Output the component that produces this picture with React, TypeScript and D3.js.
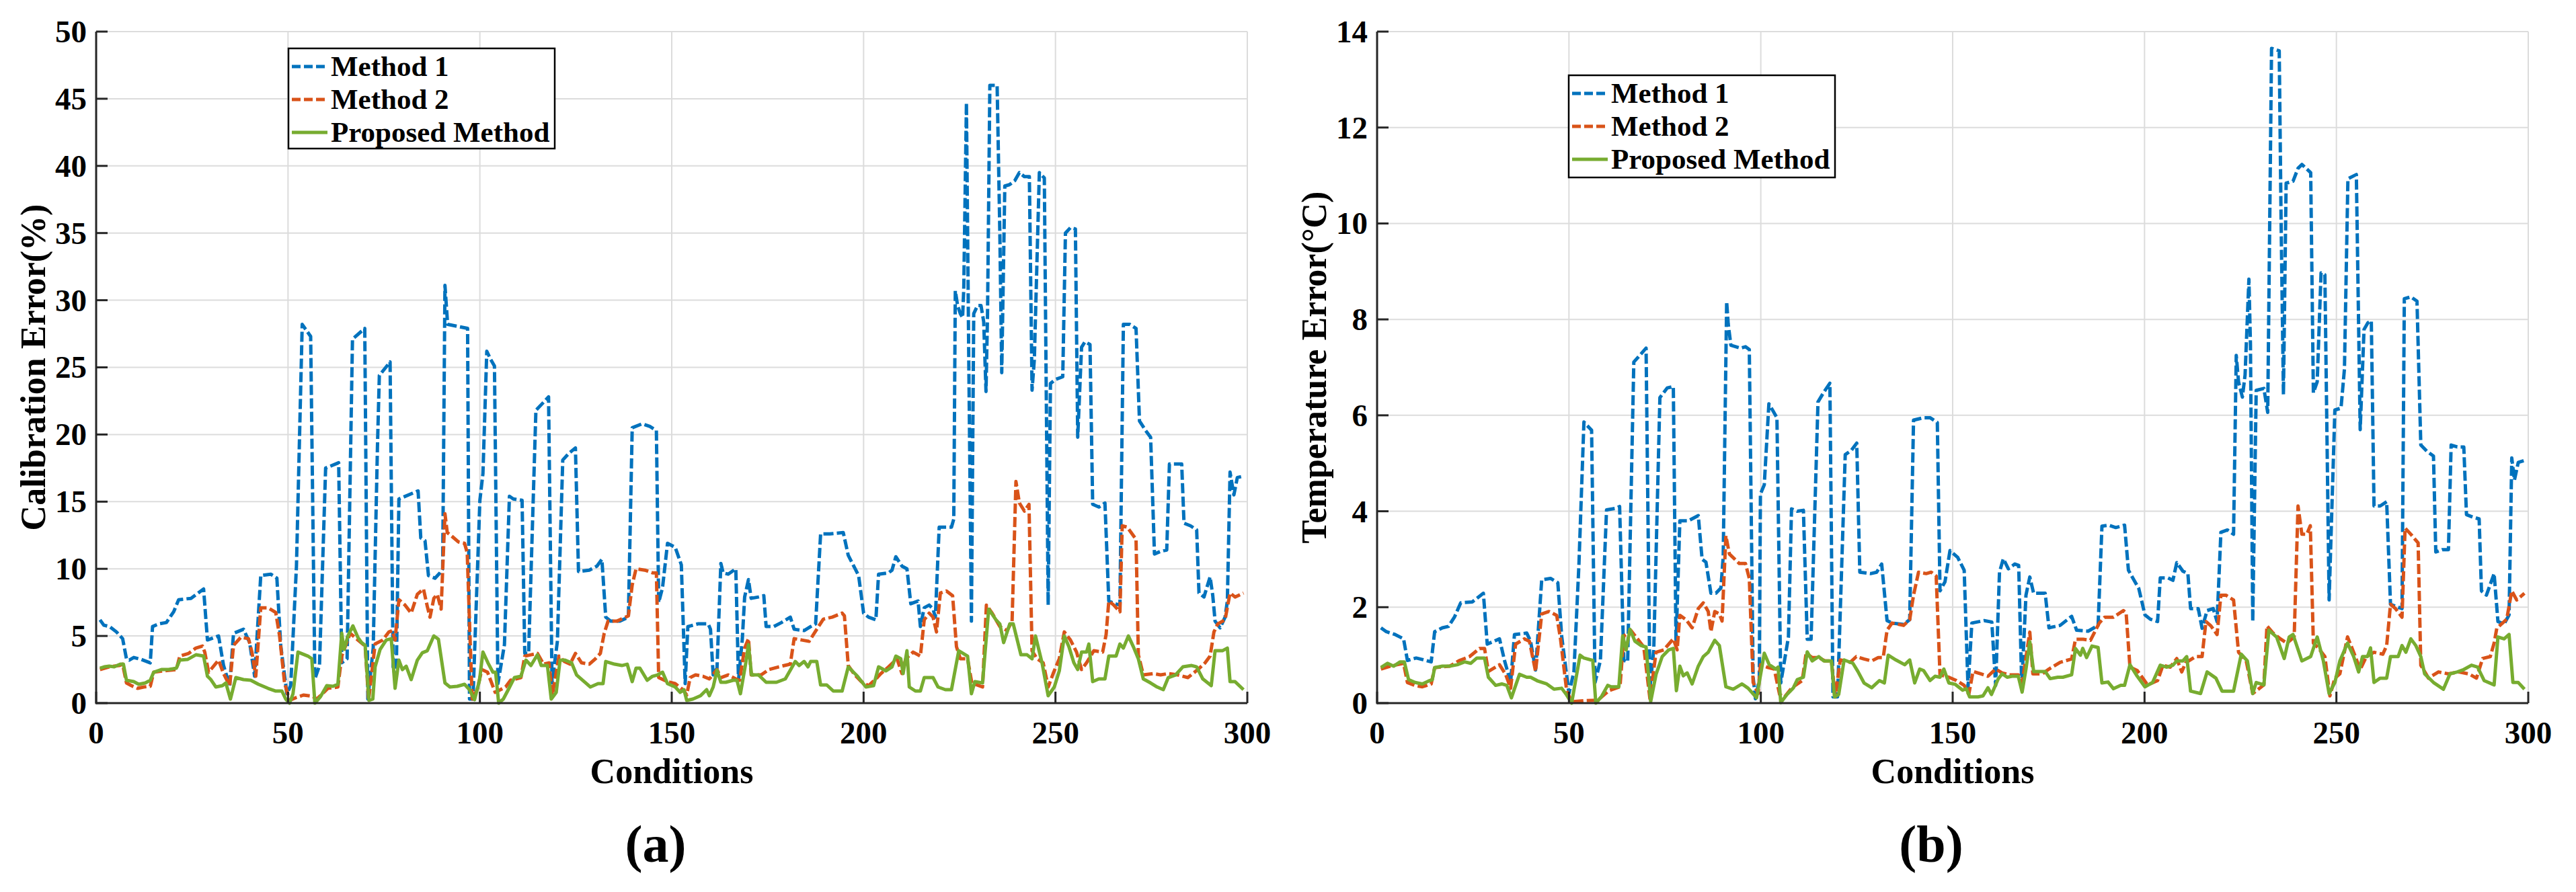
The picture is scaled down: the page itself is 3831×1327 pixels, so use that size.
import React from 'react';
import * as d3 from 'd3';

// Condition index ticks shared by both panels
const xTicks = [0, 50, 100, 150, 200, 250, 300];
const calibTicks = [0, 5, 10, 15, 20, 25, 30, 35, 40, 45, 50];
const tempTicks = [0, 2, 4, 6, 8, 10, 12, 14];
const seriesNames = ['Method 1', 'Method 2', 'Proposed Method'];

type Pt = [number, number];

// (a) calibration error, %
const calibMethod1: Pt[] = [
  [1, 6.2], [2, 5.8], [3.5, 5.7], [5.3, 5.3], [6.9, 4.8], [7.9, 3.3], [8.6, 3.2], [9.8, 3.4], [11.8, 3.25], [14.1, 3.0],
  [14.7, 5.7], [16.3, 5.9], [18.3, 6.0], [19, 6.3], [20.2, 6.8], [21.5, 7.7], [24.7, 7.8], [28, 8.5], [29, 4.7], [31.9, 5.0],
  [33.2, 2.8], [34.8, 1.3], [35.8, 5.2], [38.4, 5.5], [40, 4.5], [41.3, 2.0], [42.9, 9.5], [45.5, 9.6], [47.1, 9.3], [48.1, 4.3],
  [49.7, 0.7], [50.7, 1.3], [52.2, 10.2], [53.7, 28.2], [55.9, 27.3], [57, 1.8], [58.2, 2.8], [59.8, 17.5], [63.2, 17.9], [64, 3],
  [65.4, 3.3], [66.8, 27.1], [70, 27.9], [70.8, 0.3], [72.2, 4.1], [73.3, 19], [73.8, 24.4], [76.6, 25.4], [77.4, 2.5], [78.2, 2],
  [78.9, 15.2], [83.9, 15.8], [84.6, 12.3], [85.7, 12.1], [86.6, 9.5], [88.3, 9.3], [89.6, 9.7], [90.3, 10], [90.9, 31.1], [91.6, 28.2],
  [96.8, 27.9], [97.3, 0.3], [98.2, 0.3], [100, 15.1], [100.8, 17.1], [101.8, 26.2], [102.8, 25.6], [103.8, 25.1], [104.7, 1.45], [106.4, 4.35],
  [107.7, 15.4], [108.7, 15.2], [111, 15.1], [111.7, 3.7], [112.7, 3.7], [114.6, 21.8], [116.6, 22.4], [117.9, 22.8], [118.8, 1.5], [120.2, 4.6],
  [121.6, 18.1], [123.2, 18.6], [124.9, 19], [125.7, 9.8], [128.5, 9.9], [130.5, 10.2], [131.8, 10.7], [132.8, 6.4], [134.1, 6.1], [136.4, 6.1],
  [138.7, 6.4], [139.7, 20.5], [142.3, 20.8], [144.3, 20.6], [146, 20.3], [146.6, 7.5], [147.6, 8.6], [148.9, 11.9], [150.9, 11.6], [152.5, 10.3],
  [153.5, 1.45], [154.2, 5.7], [156.8, 5.9], [159.5, 5.9], [160.1, 5.5], [160.8, 2.1], [161.8, 2.6], [162.8, 10.4], [163.4, 9.7], [164.7, 9.6],
  [166.7, 10], [167.4, 1.7], [168.4, 4.8], [169, 7.9], [170, 9.2], [170.7, 7.8], [172.6, 7.9], [174, 8.0], [174.6, 5.7], [176.6, 5.7],
  [178.6, 6.0], [180.9, 6.4], [181.9, 5.5], [184.5, 5.4], [186.2, 5.7], [187.5, 5.9], [188.8, 12.6], [191.2, 12.6], [194.7, 12.7], [196, 11],
  [198.7, 9.5], [200, 6.7], [201.3, 6.4], [203.2, 6.2], [203.9, 9.6], [206.5, 9.7], [207.4, 9.9], [208.4, 10.9], [210, 10.2], [211.3, 10],
  [212.3, 7.4], [214.2, 7.6], [214.8, 5.7], [215.8, 7.1], [217.1, 7.3], [218.1, 7.0], [218.7, 6.4], [219.7, 13.1], [222.9, 13.1], [223.5, 13.7],
  [223.9, 30.7], [224.5, 29.6], [225.2, 29], [225.8, 28.7], [226.1, 30.8], [226.8, 44.7], [227.4, 25.9], [228.1, 6.1], [228.7, 29], [229.7, 29.6],
  [230.6, 29.6], [231.3, 28.4], [231.9, 23.2], [232.3, 29], [232.9, 46], [234.8, 46], [235.5, 35.1], [236, 24.6], [236.8, 38.5], [238, 38.6],
  [239.4, 38.9], [240.6, 39.5], [241.9, 39.2], [243.2, 39.2], [243.9, 23.3], [244.5, 25.6], [245.8, 39.5], [247.1, 39.1], [248.1, 7.3], [248.7, 23.8],
  [250, 24.1], [251.9, 24.3], [252.6, 35], [253.9, 35.4], [255.2, 35.3], [255.8, 19.8], [256.8, 26.5], [257.7, 26.9], [259, 26.7], [259.7, 14.8],
  [261.3, 14.6], [262.9, 14.9], [263.9, 7.6], [265.5, 7.4], [266.8, 7.3], [267.7, 28.2], [269.4, 28.2], [271, 27.9], [271.9, 21], [273.5, 20.3],
  [274.8, 19.8], [275.8, 11.1], [277.4, 11.3], [279, 11.4], [279.7, 17.8], [282.9, 17.8], [283.5, 13.4], [285.2, 13.2], [286.8, 12.9], [287.4, 8.2],
  [288.7, 7.9], [290.3, 9.4], [291, 8.0], [291.6, 6.1], [292.9, 5.6], [294.2, 6.4], [294.8, 7.6], [295.5, 17.2], [296.5, 15.5], [297.4, 16.8],
  [299, 16.9],
];

const calibMethod2: Pt[] = [
  [1, 2.5], [3.4, 2.7], [6, 2.8], [6.9, 2.9], [7.9, 1.5], [9.2, 1.3], [10.8, 1.1], [12.4, 1.2], [14.1, 1.25], [15, 2.3],
  [17.6, 2.4], [20.9, 2.5], [21.8, 3.5], [24.1, 3.7], [26, 4.1], [27.7, 4.25], [28.3, 3.8], [29.3, 2.3], [31.9, 3.2], [33.2, 2.2],
  [34.8, 1.3], [35.8, 4.3], [37.7, 4.9], [39.7, 4.8], [40.6, 3.8], [41.6, 2.0], [42.9, 7.1], [44.8, 7.1], [46.8, 6.75], [47.8, 5],
  [49.1, 1.5], [50.4, 0.2], [52, 0.4], [54, 0.6], [56.5, 0.5], [57.5, 0.3], [60.4, 1.1], [63, 1.2], [64, 3.5], [66.2, 5.2],
  [68.2, 4.7], [70.1, 4.25], [71, 0.2], [72.7, 4.4], [74.7, 4.7], [76.3, 5.3], [77.2, 5.4], [77.9, 4.7], [78.9, 7.7], [80.5, 7.3],
  [82.1, 6.7], [83.7, 8.1], [85.3, 8.5], [86.3, 7.2], [87, 6.4], [88, 7.8], [88.9, 8.1], [89.9, 7], [90.9, 14.1], [91.5, 12.7],
  [92.8, 12.4], [94.4, 12], [96, 11.9], [96.7, 11.2], [97.3, 6], [98, 0.3], [99.3, 1.0], [100.5, 2.5], [102, 2.3], [104, 0.8],
  [106.7, 1.2], [108, 1.7], [110.7, 1.9], [111.7, 3.5], [113.3, 3.6], [115, 3.7], [116.6, 2.9], [118, 3.0], [118.9, 0.6], [120.6, 3.5],
  [122, 3.1], [123.5, 2.9], [124.9, 3.7], [126.5, 3.0], [128.5, 2.9], [130.1, 3.3], [131.4, 3.7], [132.4, 5.2], [133.4, 6.1], [135.7, 6.1],
  [138.7, 6.5], [139.7, 8.8], [140.7, 10], [143, 9.9], [145, 9.7], [146, 9.7], [146.6, 1.9], [148.9, 1.6], [150.9, 1.45], [152.9, 1.0],
  [153.9, 0.6], [154.8, 1.9], [156.2, 2.1], [158.1, 2.0], [159.8, 1.8], [161.8, 2.5], [162.8, 1.9], [164.7, 2.1], [166.7, 1.8], [167.7, 1.7],
  [169, 4.1], [170, 4.8], [170.7, 2.1], [173.3, 2.1], [175.3, 2.5], [177.9, 2.7], [180.9, 2.9], [181.9, 4.8], [183.9, 4.7], [185.8, 4.6],
  [187.8, 5.5], [189.5, 6.25], [191.8, 6.4], [194.4, 6.7], [195, 6.5], [196, 2.8], [197.7, 2.1], [199.4, 1.6], [201.3, 1.3], [203.2, 1.8],
  [204.5, 2.2], [206.5, 2.7], [208.7, 3.3], [210, 2.2], [211, 3.3], [212.9, 3.8], [214.8, 3.5], [215.8, 6.2], [217.1, 6.7], [218.1, 6.4],
  [219, 5.3], [220, 8.2], [221.6, 8.35], [223.2, 8.0], [224.2, 4.2], [225.2, 3.3], [227.1, 3.3], [228.2, 1.5], [231, 1.2], [232, 7.3],
  [233.5, 6.7], [235.5, 5.7], [237.4, 5.4], [238.7, 6.1], [239.7, 16.5], [240.6, 14.9], [241.9, 14.3], [243.1, 14.8], [243.9, 3.9], [245.2, 3.3],
  [246.8, 3], [248.1, 1.2], [249.4, 2.2], [251, 3.3], [252.3, 5.3], [253.9, 4.7], [255.5, 3.8], [256.8, 2.5], [258.1, 3.0], [260, 3.9],
  [262.3, 3.8], [263.2, 5.1], [263.9, 7.6], [265.2, 7.3], [266.8, 6.8], [267.4, 13.2], [268.7, 13.1], [271, 12.2], [271.6, 3.6], [272.9, 2.1],
  [275.5, 2.2], [277.4, 2.1], [279.4, 2.2], [281.9, 2.1], [284.5, 1.9], [287.1, 2.5], [289, 3.0], [290.3, 3.5], [291.3, 5.3], [292.3, 5.9],
  [294.2, 6.2], [295.5, 8.2], [296.8, 7.9], [299, 8.2],
];

const calibProposed: Pt[] = [
  [1, 2.6], [2.1, 2.7], [3.4, 2.75], [4.7, 2.7], [6.3, 2.9], [7.1, 2.9], [7.9, 1.7], [9.8, 1.6], [11.1, 1.4], [12.8, 1.5],
  [14.1, 1.7], [15, 2.3], [17, 2.5], [18.9, 2.5], [20.9, 2.6], [21.8, 3.2], [23.8, 3.25], [26, 3.6], [28, 3.5], [29, 2.0],
  [29.9, 1.75], [31.2, 1.2], [32.9, 1.3], [33.8, 1.5], [35, 0.3], [36.4, 1.9], [38.4, 1.75], [40.3, 1.7], [42.3, 1.4], [44.8, 1.1],
  [46.8, 0.9], [48.4, 0.9], [49.4, 0.3], [50.4, 0], [51.3, 0.7], [52.6, 3.8], [55.2, 3.5], [56.2, 3.3], [57, 0], [58.5, 0.5],
  [60.1, 1.3], [61.7, 1.25], [63, 1.4], [64, 5.2], [64.6, 4.0], [65.6, 5.0], [66.9, 5.75], [68.2, 4.9], [69.2, 4.5], [70.1, 4.3],
  [71.1, 0.2], [72.1, 0.3], [72.7, 2.7], [74, 4.0], [75.6, 4.7], [76.9, 4.8], [77.9, 1.1], [78.9, 3.2], [79.8, 2.5], [80.8, 2.75],
  [82.1, 1.75], [83.7, 3.2], [85, 3.75], [86.3, 3.9], [88, 5.0], [89.2, 4.75], [90.9, 1.5], [92.2, 1.2], [94.1, 1.25], [96, 1.4],
  [97.3, 1.0], [98.6, 0.25], [99.9, 1.7], [100.8, 3.8], [102.1, 3.0], [103.4, 2.3], [104.1, 2.3], [104.9, 0], [106.1, 0.3], [107.4, 1.0],
  [109, 1.9], [110.7, 2.0], [112, 3.2], [113.3, 2.8], [115, 3.6], [116, 2.8], [117.6, 2.8], [118.6, 0.3], [119.9, 0.8], [120.9, 3.2],
  [122.2, 3.2], [123.9, 3.0], [125.2, 2.1], [126.8, 1.7], [128.8, 1.2], [130.8, 1.45], [132.1, 1.45], [132.8, 3.1], [135.1, 2.9], [137, 2.8],
  [138.4, 2.9], [139.7, 1.6], [140.7, 2.6], [141.7, 2.6], [143.6, 1.7], [145, 2.0], [146.3, 2.1], [147.6, 2.3], [148.9, 1.45], [150.9, 1.2],
  [152.2, 0.8], [153.2, 1.0], [153.9, 0.2], [155.5, 0.3], [157.5, 0.55], [159.1, 1.0], [159.8, 0.55], [160.8, 1.2], [161.8, 2.45], [162.8, 1.55],
  [164.1, 1.55], [166, 1.7], [167, 1.7], [167.9, 0.7], [169.3, 3.0], [170, 4.35], [170.8, 2.1], [172.6, 2.1], [174.6, 1.55], [177.3, 1.55],
  [179.6, 1.8], [181.2, 2.6], [182.2, 3.1], [183.2, 2.8], [184.5, 3.1], [185.5, 2.7], [186.2, 3.1], [187.8, 3.1], [188.8, 1.35], [190.4, 1.35],
  [192.1, 0.9], [194.4, 0.9], [196, 2.7], [198.4, 2.0], [200.6, 1.2], [202.6, 1.3], [203.9, 2.7], [205.8, 2.4], [207.4, 2.7], [208.4, 3.5],
  [209.7, 3.3], [210.3, 2.2], [211.3, 3.9], [211.9, 1.2], [213.5, 0.9], [214.8, 0.9], [215.8, 1.9], [218.1, 1.9], [219.4, 1.2], [221.3, 1.0],
  [222.9, 1.0], [224.8, 3.9], [227.1, 3.5], [228.1, 0.7], [229, 1.6], [231, 1.5], [232.6, 7.0], [234.5, 6.2], [235.5, 5.9], [236.5, 4.5],
  [238.1, 5.9], [239, 5.9], [241, 3.6], [242.6, 3.6], [243.9, 3.3], [244.8, 5.0], [246.5, 3.0], [248.1, 0.55], [249.7, 1.2], [251, 2.4],
  [252.3, 5.0], [253.5, 4.2], [254.8, 3.0], [255.8, 2.5], [256.8, 3.8], [258.1, 3.8], [258.7, 4.4], [259.7, 1.6], [261.3, 1.8], [262.9, 1.8],
  [263.9, 3.5], [265.8, 3.5], [266.8, 4.4], [267.7, 4.1], [269, 5.0], [270.3, 4.2], [271.6, 3.3], [272.9, 1.8], [274.8, 1.5], [276.5, 1.2],
  [278.1, 1.0], [279.4, 1.9], [281.3, 2.1], [283.2, 2.7], [285.5, 2.8], [286.8, 2.7], [288.4, 1.8], [290.6, 1.3], [291.6, 3.9], [293.5, 3.9],
  [294.8, 4.1], [295.5, 1.6], [296.8, 1.6], [299, 1.0],
];

// (b) temperature error, degC
const tempMethod1: Pt[] = [
  [1, 1.57], [2.4, 1.49], [4.7, 1.43], [6.9, 1.34], [7.9, 0.89], [10.2, 0.94], [11.8, 0.91], [14.1, 0.86], [15, 1.49], [17, 1.57],
  [18.6, 1.6], [20.2, 1.8], [21.8, 2.09], [24.8, 2.11], [27.7, 2.29], [28.7, 1.23], [31.9, 1.34], [33.2, 0.89], [34.8, 0.43], [35.8, 1.43],
  [39, 1.46], [40, 1.29], [41.3, 0.69], [42.9, 2.57], [45.2, 2.6], [47.1, 2.51], [48.1, 1.4], [50, 0.2], [51.3, 0.66], [52.6, 2.89],
  [53.9, 5.86], [55.9, 5.69], [56.8, 0.43], [58.2, 0.89], [59.8, 4.03], [62.1, 4.06], [63.2, 4.1], [64.3, 0.89], [65.3, 0.86], [66.9, 7.11],
  [70.1, 7.4], [71.1, 0.31], [72.1, 1.11], [73.7, 6.37], [75.6, 6.57], [77.2, 6.6], [77.9, 1.23], [78.9, 3.8], [81.1, 3.8], [83.7, 3.91],
  [84.7, 3.0], [85.7, 2.94], [87, 2.29], [88.3, 2.29], [89.6, 2.4], [90.2, 3.06], [91.1, 8.37], [91.5, 7.91], [92.2, 7.46], [94.7, 7.4],
  [96, 7.43], [97, 7.37], [98, 0.54], [98.6, 0.09], [99.6, 0.49], [99.9, 4.36], [100.9, 4.55], [102.1, 6.24], [103.2, 6.09], [104.2, 5.95],
  [105.2, 0.42], [107.2, 1.38], [108, 4.05], [109.5, 4.0], [111.1, 4.02], [112.1, 1.33], [113.1, 1.33], [114.9, 6.28], [116.4, 6.48], [118, 6.67],
  [118.8, 0.13], [120, 0.13], [122, 5.18], [123.6, 5.27], [125, 5.42], [125.8, 2.73], [128.6, 2.7], [130.2, 2.73], [131.5, 2.9], [132.9, 1.72],
  [134.2, 1.67], [137.2, 1.64], [138.8, 1.74], [139.8, 5.9], [142.4, 5.95], [144.1, 5.95], [146, 5.85], [146.7, 2.34], [148, 2.53], [149.3, 3.18],
  [151.3, 3.04], [153, 2.77], [154, 0.32], [155, 1.67], [156.3, 1.69], [158.2, 1.72], [160.2, 1.69], [161.2, 0.37], [162.2, 2.73], [163.2, 3.01],
  [164.5, 2.8], [166.2, 2.9], [167.2, 2.87], [168, 0.37], [169.1, 2.25], [170.1, 2.63], [171.1, 2.29], [174.1, 2.29], [175.1, 1.57], [178, 1.62],
  [181, 1.81], [182.3, 1.52], [185.3, 1.5], [187.9, 1.62], [188.9, 3.69], [190.6, 3.71], [192.5, 3.66], [194.8, 3.71], [195.8, 2.77], [198.5, 2.39],
  [200.1, 1.84], [201.5, 1.75], [203.4, 1.7], [204.1, 2.61], [206.1, 2.61], [207.4, 2.56], [208.4, 2.93], [210, 2.75], [211.3, 2.7], [212, 1.97],
  [214, 1.97], [215, 1.56], [216.3, 1.93], [217.9, 1.97], [218.9, 1.7], [219.9, 3.56], [221.6, 3.61], [223.2, 3.52], [223.9, 7.25], [224.5, 6.7],
  [225.5, 6.38], [226.2, 6.84], [227.2, 8.84], [227.6, 7.5], [228.2, 1.7], [229.1, 6.52], [231.1, 6.56], [232.1, 6.06], [233.1, 13.65], [235.1, 13.6],
  [235.6, 9.97], [236.2, 6.43], [236.9, 10.84], [238.7, 10.88], [240, 11.15], [241, 11.23], [243.3, 11.06], [244, 6.47], [245, 6.7], [246, 8.97],
  [247, 8.93], [248.1, 2.15], [249.6, 6.11], [251.2, 6.15], [252.1, 6.97], [253, 10.93], [255.2, 11.02], [256.2, 5.7], [257.2, 7.79], [258.2, 7.93],
  [259.1, 7.97], [259.8, 4.11], [261.4, 4.11], [263.1, 4.2], [264.1, 2.06], [265.4, 2.02], [267.1, 1.97], [267.7, 8.43], [269.4, 8.47], [271, 8.38],
  [272, 5.38], [273.6, 5.25], [275.3, 5.15], [275.9, 3.15], [277.6, 3.2], [279.2, 3.2], [279.9, 5.38], [281.5, 5.34], [283.2, 5.34], [283.9, 3.93],
  [285.5, 3.88], [287.2, 3.84], [287.8, 2.34], [289.1, 2.25], [291.1, 2.7], [292.1, 1.7], [293.7, 1.65], [295, 1.84], [295.7, 5.11], [296.4, 4.65],
  [297.4, 5.02], [299, 5.06],
];

const tempMethod2: Pt[] = [
  [1, 0.71], [3.4, 0.77], [6.9, 0.83], [7.9, 0.43], [9.8, 0.37], [11.8, 0.34], [14.1, 0.4], [15, 0.74], [18.9, 0.77], [21.5, 0.89],
  [24.1, 0.97], [26.7, 1.14], [28, 1.14], [29, 0.66], [31.9, 0.8], [33.5, 0.6], [34.8, 0.31], [36.1, 1.23], [38.4, 1.34], [39.7, 1.29],
  [41.3, 0.66], [42.9, 1.86], [44.8, 1.91], [46.8, 1.83], [47.8, 1.34], [49.4, 0.26], [50.7, 0.03], [54, 0.05], [57.5, 0.06], [60.4, 0.26],
  [63.3, 0.34], [64.3, 1.4], [66.2, 1.51], [69.5, 1.17], [71.1, 0.09], [72.7, 1.06], [74.7, 1.11], [77.2, 1.34], [78.2, 1.11], [78.9, 1.83],
  [80.5, 1.74], [82.1, 1.57], [83.7, 1.97], [85, 2.09], [86.3, 1.91], [87, 1.49], [88, 1.91], [89.2, 1.86], [89.9, 1.71], [90.9, 3.49],
  [91.8, 3.11], [94.4, 2.91], [96, 2.91], [97, 2.6], [98, 0.43], [99.3, 0.2], [99.9, 0.8], [101.6, 0.75], [103.5, 0.71], [104.9, 0.18],
  [106.2, 0.13], [108.1, 0.32], [110.8, 0.47], [111.8, 1.04], [113.4, 0.95], [115.1, 0.95], [116.7, 0.88], [118.4, 0.88], [119.4, 0.13], [120.7, 0.9],
  [122, 0.88], [123.3, 0.85], [124.9, 0.97], [126.9, 0.92], [128.9, 0.88], [130.6, 0.95], [131.9, 0.95], [132.9, 1.52], [134.2, 1.67], [137.2, 1.62],
  [138.8, 1.74], [139.8, 2.25], [141.1, 2.73], [143.1, 2.7], [144.4, 2.73], [145.7, 2.65], [146.7, 0.59], [149, 0.54], [151, 0.47], [153, 0.37],
  [154.2, 0.18], [155.3, 0.66], [157.3, 0.61], [159.2, 0.56], [161.2, 0.71], [162.9, 0.63], [164.8, 0.59], [167.1, 0.59], [168.1, 0.42], [170.1, 1.48],
  [170.9, 0.61], [173.4, 0.61], [175.1, 0.71], [178, 0.85], [181, 0.92], [182, 1.33], [184, 1.33], [185.9, 1.31], [188.2, 1.67], [189.6, 1.79],
  [191.9, 1.79], [194.5, 1.93], [195.2, 1.88], [196.2, 0.75], [198.1, 0.68], [200.8, 0.38], [203.4, 0.47], [204.8, 0.79], [206.7, 0.75], [208.4, 0.93],
  [209.7, 0.65], [210.7, 0.84], [213.3, 0.97], [215, 0.97], [216, 1.7], [217.3, 1.61], [218.9, 1.43], [219.9, 2.25], [221.2, 2.25], [223.2, 2.15],
  [224.5, 1.06], [226.5, 0.88], [228.2, 0.2], [231.1, 0.38], [231.9, 1.61], [233.4, 1.47], [235.4, 1.34], [237.1, 1.25], [239, 1.38], [240, 4.11],
  [241, 3.52], [242.3, 3.52], [243.2, 3.7], [244, 1.25], [245.3, 1.15], [247, 0.97], [248.3, 0.15], [249.6, 0.52], [250.9, 0.61], [252.9, 1.38],
  [254.5, 1.06], [256.2, 0.7], [257.8, 0.97], [259.8, 1.06], [262.1, 1.02], [263.1, 1.2], [264.1, 2.06], [265.4, 1.97], [267.1, 1.79], [267.9, 3.65],
  [269.4, 3.52], [271.3, 3.34], [272, 0.79], [274, 0.52], [276.6, 0.65], [279.2, 0.61], [281.9, 0.65], [284.5, 0.61], [286.5, 0.52], [288.1, 0.93],
  [290.1, 0.97], [291.1, 1.25], [291.8, 1.56], [294.4, 1.75], [295.7, 2.34], [297, 2.15], [299, 2.29],
];

const tempProposed: Pt[] = [
  [1, 0.74], [2.7, 0.83], [4.3, 0.77], [6, 0.86], [7.1, 0.86], [8.2, 0.49], [9.9, 0.43], [11.8, 0.4], [13.4, 0.46], [14.4, 0.49],
  [15, 0.74], [17, 0.77], [18.9, 0.77], [20.9, 0.8], [22.8, 0.86], [24.4, 0.83], [26, 0.94], [28, 0.94], [29, 0.54], [30.9, 0.37],
  [32.5, 0.4], [33.8, 0.37], [35, 0.11], [37.1, 0.6], [39, 0.54], [40, 0.54], [41.9, 0.46], [44.2, 0.4], [46.1, 0.29], [48.1, 0.31],
  [49.4, 0.17], [50.7, 0], [52.9, 1.0], [53.9, 0.94], [56.2, 0.89], [57, 0], [58.5, 0.14], [60.1, 0.37], [61, 0.34], [63, 0.34],
  [64, 1.4], [64.9, 1.11], [65.9, 1.54], [67.2, 1.29], [68.8, 1.2], [70.1, 1.17], [71.3, 0.03], [72.7, 0.6], [74.3, 0.97], [76, 1.11],
  [77.2, 1.14], [78, 0.26], [78.9, 0.77], [79.8, 0.57], [80.8, 0.63], [82.1, 0.4], [83.7, 0.77], [85, 0.97], [86.3, 1.06], [88, 1.31],
  [89.2, 1.2], [90.9, 0.34], [92.8, 0.29], [95.1, 0.4], [96.7, 0.31], [98.9, 0.11], [100.9, 1.04], [102.2, 0.8], [103.9, 0.71], [104.5, 0.75],
  [105.2, 0.01], [106.8, 0.18], [108.5, 0.32], [109.5, 0.49], [111.1, 0.54], [112.1, 1.07], [113.4, 0.88], [115.1, 0.97], [116.4, 0.88], [118.4, 0.88],
  [119.2, 0.13], [120.3, 0.18], [121.7, 0.9], [124, 0.83], [125.3, 0.66], [126.9, 0.42], [128.9, 0.32], [130.9, 0.47], [132.2, 0.42], [133.2, 1.0],
  [135.2, 0.9], [137.5, 0.8], [138.8, 0.9], [140.1, 0.42], [141.4, 0.71], [142.4, 0.68], [144.1, 0.47], [145.4, 0.56], [146.7, 0.54], [147.7, 0.71],
  [149, 0.42], [150.7, 0.39], [152.6, 0.27], [153.6, 0.3], [154.4, 0.13], [156.6, 0.13], [157.9, 0.15], [159.2, 0.32], [160.1, 0.18], [161.9, 0.51],
  [162.9, 0.61], [164.2, 0.54], [165.5, 0.56], [167.1, 0.56], [168.1, 0.23], [169.1, 0.71], [170.1, 1.28], [171.1, 0.66], [174.1, 0.66], [175.4, 0.51],
  [177.4, 0.54], [178.7, 0.54], [181, 0.59], [182, 1.14], [183.3, 1.0], [183.9, 1.14], [184.9, 0.95], [186.3, 1.19], [187.9, 1.16], [188.9, 0.42],
  [190.5, 0.44], [191.9, 0.3], [193.8, 0.37], [194.8, 0.37], [196.2, 0.8], [198.1, 0.56], [200.1, 0.34], [202.1, 0.43], [204.1, 0.79], [205.7, 0.75],
  [207.4, 0.79], [208.4, 0.88], [210, 0.88], [211, 0.97], [212, 0.25], [214.6, 0.2], [216.3, 0.65], [218.6, 0.52], [220.2, 0.25], [223.2, 0.25],
  [225.2, 1.02], [226.8, 0.88], [228.2, 0.2], [229.1, 0.43], [231.1, 0.38], [232.4, 1.52], [234.4, 1.38], [236.4, 0.93], [237.7, 1.38], [238.7, 1.43],
  [241, 0.88], [243.3, 0.97], [245, 1.38], [246.6, 0.88], [248.1, 0.2], [249.6, 0.43], [250.9, 0.88], [252.9, 1.25], [254.5, 0.97], [255.8, 0.65],
  [256.8, 0.97], [258.1, 0.97], [258.9, 1.15], [259.8, 0.43], [261.4, 0.52], [263.1, 0.52], [264.1, 0.97], [266.1, 0.97], [267.1, 1.2], [268.1, 1.06],
  [269.4, 1.34], [270.7, 1.2], [272, 0.97], [273, 0.61], [275.3, 0.43], [277.9, 0.29], [279.6, 0.61], [281.5, 0.65], [283.2, 0.7], [285.2, 0.79],
  [286.8, 0.75], [288.5, 0.47], [291.1, 0.38], [292.1, 1.38], [293.7, 1.34], [295, 1.43], [296, 0.43], [297.4, 0.43], [299, 0.29],
];

const W = 3831;
const H = 1327;
const FONT = "'Liberation Serif', 'Times New Roman', serif";
const colors = ['#0072BD', '#D95319', '#77AC30'];
const dashes = ['15 5', '15 5', undefined];

const top = 47;
const bottom = 1046;

interface PanelProps {
  left: number;
  right: number;
  series: Pt[][];
  yMax: number;
  yTicks: number[];
  yLabel: string;
  title: string;
  titleX: number;
  legend: { x: number; y: number; w: number; h: number; row: number };
}

const Panel: React.FC<PanelProps> = ({ left, right, series, yMax, yTicks, yLabel, title, titleX, legend }) => {
  const x = d3.scaleLinear().domain([0, 300]).range([left, right]);
  const y = d3.scaleLinear().domain([0, yMax]).range([bottom, top]);
  const line = d3
    .line<Pt>()
    .x((d) => x(d[0]))
    .y((d) => y(d[1]));

  return (
    <g fontFamily={FONT} fontWeight="bold" fill="#000">
      {/* grid */}
      {xTicks.map((t) => (
        <line key={'gx' + t} x1={x(t)} x2={x(t)} y1={top} y2={bottom} stroke="#dcdcdc" strokeWidth={2} />
      ))}
      {yTicks.map((t) => (
        <line key={'gy' + t} x1={left} x2={right} y1={y(t)} y2={y(t)} stroke="#dcdcdc" strokeWidth={2} />
      ))}

      {/* data */}
      {series.map((s, i) => (
        <path
          key={'s' + i}
          d={line(s) ?? ''}
          fill="none"
          stroke={colors[i]}
          strokeWidth={5}
          strokeDasharray={dashes[i]}
          strokeLinejoin="round"
        />
      ))}

      {/* axes */}
      <line x1={left} x2={left} y1={top} y2={bottom + 1.5} stroke="#262626" strokeWidth={3} />
      <line x1={left} x2={right} y1={bottom} y2={bottom} stroke="#262626" strokeWidth={3} />
      {yTicks.map((t) => (
        <g key={'ty' + t}>
          <line x1={left} x2={left + 17} y1={y(t)} y2={y(t)} stroke="#262626" strokeWidth={3} />
          <text x={left - 14} y={y(t)} dy="0.34em" textAnchor="end" fontSize={47}>
            {t}
          </text>
        </g>
      ))}
      {xTicks.map((t) => (
        <g key={'tx' + t}>
          <line x1={x(t)} x2={x(t)} y1={bottom} y2={bottom - 17} stroke="#262626" strokeWidth={3} />
          <text x={x(t)} y={1106} textAnchor="middle" fontSize={47}>
            {t}
          </text>
        </g>
      ))}

      <text x={(left + right) / 2} y={1165} textAnchor="middle" fontSize={52}>
        Conditions
      </text>
      <text
        transform={`translate(${left - 76},${(top + bottom) / 2}) rotate(-90)`}
        textAnchor="middle"
        fontSize={52}
      >
        {yLabel}
      </text>
      <text x={titleX} y={1282} textAnchor="middle" fontSize={78}>
        {title}
      </text>

      {/* legend */}
      <rect x={legend.x} y={legend.y} width={legend.w} height={legend.h} fill="#fff" stroke="#000" strokeWidth={2.5} />
      {seriesNames.map((n, i) => {
        const cy = legend.y + 27 + i * legend.row;
        return (
          <g key={'lg' + i}>
            <line
              x1={legend.x + 5}
              x2={legend.x + 58}
              y1={cy}
              y2={cy}
              stroke={colors[i]}
              strokeWidth={5}
              strokeDasharray={dashes[i] ? '13 5' : undefined}
            />
            <text x={legend.x + 63} y={cy} dy="0.33em" fontSize={43}>
              {n}
            </text>
          </g>
        );
      })}
    </g>
  );
};

export default function App() {
  return (
    <svg
      width={W}
      height={H}
      viewBox={`0 0 ${W} ${H}`}
      style={{ position: 'absolute', left: 0, top: 0, background: '#fff' }}
    >
      <rect width={W} height={H} fill="#fff" />
      <Panel
        left={143}
        right={1855}
        series={[calibMethod1, calibMethod2, calibProposed]}
        yMax={50}
        yTicks={calibTicks}
        yLabel="Calibration Error(%)"
        title="(a)"
        titleX={975}
        legend={{ x: 429, y: 72, w: 396, h: 149, row: 49 }}
      />
      <Panel
        left={2048}
        right={3760}
        series={[tempMethod1, tempMethod2, tempProposed]}
        yMax={14}
        yTicks={tempTicks}
        yLabel="Temperature Error(°C)"
        title="(b)"
        titleX={2872}
        legend={{ x: 2333, y: 112, w: 396, h: 152, row: 49 }}
      />
    </svg>
  );
}
